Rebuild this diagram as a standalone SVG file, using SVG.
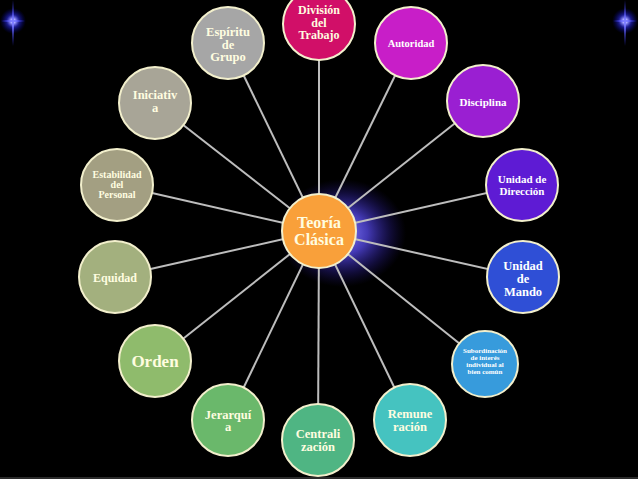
<svg xmlns="http://www.w3.org/2000/svg" width="638" height="479" viewBox="0 0 638 479">
<defs>
<radialGradient id="glow" cx="50%" cy="50%" r="50%">
<stop offset="0" stop-color="#8a86ff" stop-opacity="1"/>
<stop offset="0.4" stop-color="#5a4df0" stop-opacity="0.75"/>
<stop offset="0.75" stop-color="#3a2ac0" stop-opacity="0.3"/>
<stop offset="1" stop-color="#2a1a90" stop-opacity="0"/>
</radialGradient>
<radialGradient id="star" cx="50%" cy="50%" r="50%">
<stop offset="0" stop-color="#ffffff"/>
<stop offset="0.2" stop-color="#9a9aff"/>
<stop offset="0.5" stop-color="#2a2ae0" stop-opacity="0.6"/>
<stop offset="1" stop-color="#0000a0" stop-opacity="0"/>
</radialGradient>
<linearGradient id="rayV" x1="0" y1="0" x2="0" y2="1">
<stop offset="0" stop-color="#3030ff" stop-opacity="0"/>
<stop offset="0.5" stop-color="#8080ff"/>
<stop offset="1" stop-color="#3030ff" stop-opacity="0"/>
</linearGradient>
<linearGradient id="rayH" x1="0" y1="0" x2="1" y2="0">
<stop offset="0" stop-color="#3030ff" stop-opacity="0"/>
<stop offset="0.5" stop-color="#8080ff"/>
<stop offset="1" stop-color="#3030ff" stop-opacity="0"/>
</linearGradient>
</defs>
<style>
.n{stroke:#f2efcc;stroke-width:2}
.t{font-family:"Liberation Serif","Times New Roman",serif;font-weight:bold;fill:#fffde0;text-anchor:middle}
.w{fill:#ffffff}
.c line{stroke:#bdbdbd;stroke-width:2}
</style>
<rect width="638" height="479" fill="#000"/>
<rect y="477" width="638" height="2" fill="#2b2b2b"/>
<g id="star-left">
<circle cx="13" cy="21" r="13" fill="url(#star)"/>
<rect x="12" y="0" width="2" height="46" fill="url(#rayV)"/>
<rect x="1" y="20" width="24" height="2" fill="url(#rayH)"/>
</g>
<g id="star-right">
<circle cx="625" cy="21" r="13" fill="url(#star)"/>
<rect x="624" y="0" width="2" height="46" fill="url(#rayV)"/>
<rect x="613" y="20" width="24" height="2" fill="url(#rayH)"/>
</g>
<ellipse cx="342" cy="233" rx="64" ry="54" fill="url(#glow)"/>
<g class="c" id="connectors">
<line x1="319" y1="231" x2="319" y2="24"/>
<line x1="319" y1="231" x2="411" y2="43"/>
<line x1="319" y1="231" x2="483" y2="101"/>
<line x1="319" y1="231" x2="522" y2="185"/>
<line x1="319" y1="231" x2="523" y2="277"/>
<line x1="319" y1="231" x2="485" y2="364"/>
<line x1="319" y1="231" x2="410" y2="420"/>
<line x1="319" y1="231" x2="318" y2="440"/>
<line x1="319" y1="231" x2="228" y2="420"/>
<line x1="319" y1="231" x2="155" y2="361"/>
<line x1="319" y1="231" x2="115" y2="277"/>
<line x1="319" y1="231" x2="117" y2="185"/>
<line x1="319" y1="231" x2="155" y2="103"/>
<line x1="319" y1="231" x2="228" y2="43"/>
</g>
<g id="center">
<circle class="n" cx="319" cy="231" r="37" fill="#f9a03a"/>
<text class="t" x="319" y="227.5" font-size="16">Teoría</text>
<text class="t" x="319" y="245" font-size="16">Clásica</text>
</g>
<g id="division">
<circle class="n" cx="319" cy="24" r="36" fill="#d10f68"/>
<text class="t" x="319" y="14" font-size="12">División</text>
<text class="t" x="319" y="26.5" font-size="12">del</text>
<text class="t" x="319" y="39" font-size="12">Trabajo</text>
</g>
<g id="autoridad">
<circle class="n" cx="411" cy="43" r="36" fill="#c81ec8"/>
<text class="t w" x="411" y="46.5" font-size="10.5">Autoridad</text>
</g>
<g id="disciplina">
<circle class="n" cx="483" cy="101" r="36" fill="#9a1fd2"/>
<text class="t w" x="483" y="106" font-size="11">Disciplina</text>
</g>
<g id="unidad-direccion">
<circle class="n" cx="522" cy="185" r="36" fill="#5e1bd4"/>
<text class="t w" x="522" y="183" font-size="11">Unidad de</text>
<text class="t w" x="522" y="195" font-size="11">Dirección</text>
</g>
<g id="unidad-mando">
<circle class="n" cx="523" cy="277" r="36" fill="#2f4fd6"/>
<text class="t w" x="523" y="270" font-size="12.5">Unidad</text>
<text class="t w" x="523" y="283" font-size="12.5">de</text>
<text class="t w" x="523" y="296" font-size="12.5">Mando</text>
</g>
<g id="subordinacion">
<circle class="n" cx="485" cy="364" r="33" fill="#379bdc"/>
<text class="t w" x="485" y="353" font-size="7">Subordinación</text>
<text class="t w" x="485" y="360" font-size="7">de interés</text>
<text class="t w" x="485" y="367" font-size="7">individual al</text>
<text class="t w" x="485" y="374" font-size="7">bien común</text>
</g>
<g id="remuneracion">
<circle class="n" cx="410" cy="420" r="36" fill="#45c3c0"/>
<text class="t" x="410" y="418" font-size="12.5">Remune</text>
<text class="t" x="410" y="431" font-size="12.5">ración</text>
</g>
<g id="centralizacion">
<circle class="n" cx="318" cy="440" r="36" fill="#4fb583"/>
<text class="t" x="318" y="438" font-size="12.5">Centrali</text>
<text class="t" x="318" y="451" font-size="12.5">zación</text>
</g>
<g id="jerarquia">
<circle class="n" cx="228" cy="420" r="36" fill="#6ab86b"/>
<text class="t" x="228" y="418.5" font-size="12.5">Jerarquí</text>
<text class="t" x="228" y="431" font-size="12.5">a</text>
</g>
<g id="orden">
<circle class="n" cx="155" cy="361" r="36" fill="#8fbb6c"/>
<text class="t" x="155" y="367" font-size="17">Orden</text>
</g>
<g id="equidad">
<circle class="n" cx="115" cy="277" r="36" fill="#a3b07e"/>
<text class="t" x="115" y="282" font-size="12">Equidad</text>
</g>
<g id="estabilidad">
<circle class="n" cx="117" cy="185" r="36" fill="#a39f82"/>
<text class="t" x="117" y="178" font-size="10">Estabilidad</text>
<text class="t" x="117" y="188" font-size="10">del</text>
<text class="t" x="117" y="198" font-size="10">Personal</text>
</g>
<g id="iniciativa">
<circle class="n" cx="155" cy="103" r="36" fill="#a8a597"/>
<text class="t" x="155" y="99" font-size="12.5">Iniciativ</text>
<text class="t" x="155" y="112" font-size="12.5">a</text>
</g>
<g id="espiritu">
<circle class="n" cx="228" cy="43" r="36" fill="#a6a6a6"/>
<text class="t" x="228" y="36" font-size="12.5">Espíritu</text>
<text class="t" x="228" y="48.5" font-size="12.5">de</text>
<text class="t" x="228" y="61" font-size="12.5">Grupo</text>
</g>
</svg>
